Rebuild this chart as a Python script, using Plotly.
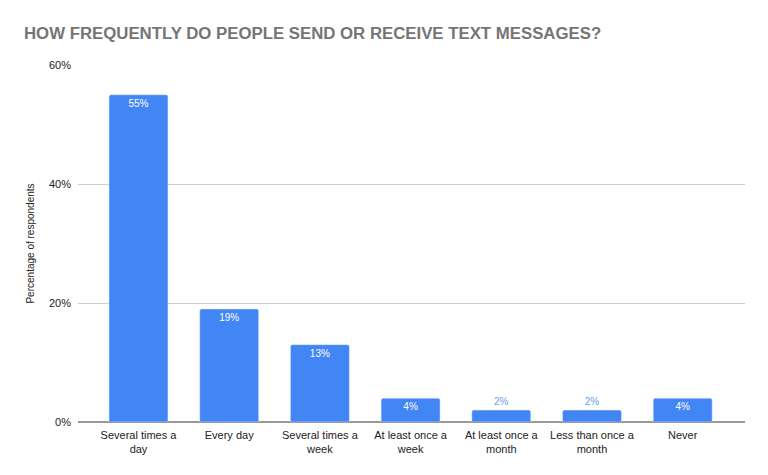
import plotly.graph_objects as go

categories = ["Several times a<br>day", "Every day", "Several times a<br>week",
              "At least once a<br>week", "At least once a<br>month",
              "Less than once a<br>month", "Never"]
values = [55, 19, 13, 4, 2, 2, 4]
positions = ["inside", "inside", "inside", "inside", "outside", "outside", "inside"]
label_colors = ["white" if p == "inside" else "#6d9eeb" for p in positions]

FONT = "Arial, Liberation Sans, sans-serif"

fig = go.Figure(go.Bar(
    x=list(range(len(categories))),
    y=values,
    width=0.65,
    marker=dict(color="#4285f4", cornerradius=2),
    text=[f"{v}%" for v in values],
    textposition=positions,
    insidetextanchor="end",
    textfont=dict(family=FONT, size=10, color=label_colors),
    cliponaxis=False,
    constraintext="none",
))

fig.update_layout(
    width=768, height=475,
    margin=dict(l=70, r=31, t=57, b=61),
    paper_bgcolor="white", plot_bgcolor="white",
    title=dict(text="<b>HOW FREQUENTLY DO PEOPLE SEND OR RECEIVE TEXT MESSAGES?</b>",
               x=0.0208, xref="container", xanchor="left", y=0.947, yref="container", yanchor="middle",
               font=dict(family=FONT, size=16.8, color="#757575")),
    showlegend=False,
)

fig.update_xaxes(
    tickmode="array", tickvals=list(range(len(categories))), ticktext=categories,
    range=[-0.667, 6.687], showgrid=False, showline=False, zeroline=False,
    tickfont=dict(family=FONT, size=11, color="#222222"),
    ticks="", fixedrange=True, ticklabelstandoff=5,
)
fig.update_yaxes(
    range=[0, 60], tickvals=[0, 20, 40, 60], ticktext=["0%", "20%", "40%", "60%"],
    showgrid=True, gridcolor="#cccccc", gridwidth=1,
    zeroline=True, zerolinecolor="#999999", zerolinewidth=1.5,
    tickfont=dict(family=FONT, size=11, color="#222222"),
    title=dict(text="Percentage of respondents", standoff=12,
               font=dict(family=FONT, size=10, color="#222222")),
    ticks="", ticklabelstandoff=6,
)

fig.write_html("out.html")
